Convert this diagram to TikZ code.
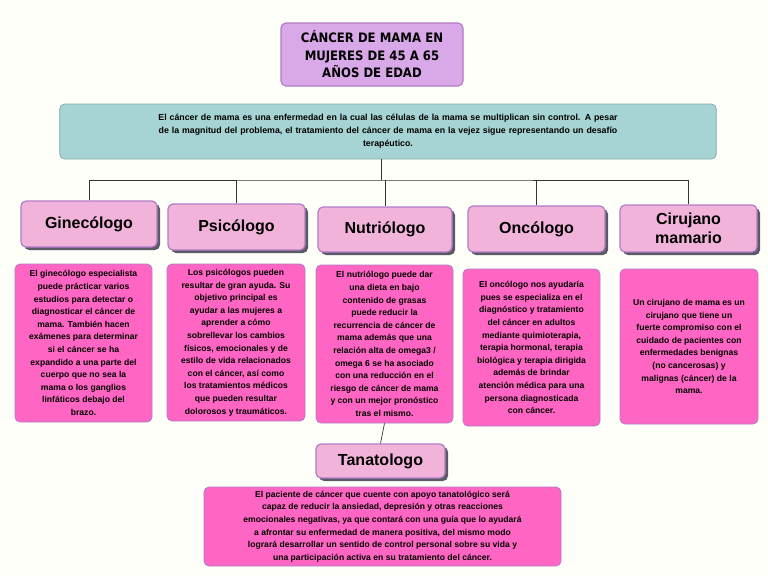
\documentclass[tikz,border=0pt]{standalone}
\usepackage{fontspec}
\setmainfont{Liberation Sans}
\newfontfamily\titlefont{DejaVu Sans Condensed}
\begin{document}
\begin{tikzpicture}[x=1pt,y=-1pt,
 hdr/.style={draw=hpurp,line width=1.2pt,fill=hpink,rounded corners=5pt,font=\bfseries\fontsize{16}{19}\selectfont,align=center,
   inner sep=0pt,drop shadow={shadow xshift=3pt,shadow yshift=-3pt,fill=shad,opacity=1}},
 txt/.style={draw=hpurp,line width=0.8pt,fill=tpink,rounded corners=5pt,font=\bfseries\fontsize{8.6}{12.6}\selectfont,align=center,inner sep=0pt},
 ln/.style={line width=0.7pt,black!80}]
\definecolor{hpink}{HTML}{F2B3DB}
\definecolor{hpurp}{HTML}{B07CC6}
\definecolor{tpink}{HTML}{FF66C4}
\definecolor{shad}{HTML}{5A5A66}
\definecolor{lav}{HTML}{D9A8E8}
\definecolor{teal}{HTML}{A6D3D4}
\useasboundingbox[fill=white!98!yellow] (0,0) rectangle (768,576);
\usetikzlibrary{shadows}
\node[draw=hpurp,line width=1.2pt,fill=lav,rounded corners=5pt,minimum width=182pt,minimum height=63pt,align=center,
 font=\titlefont\bfseries\fontsize{13}{17.5}\selectfont] (title) at (372,54.5) {CÁNCER DE MAMA EN\\MUJERES DE 45 A 65\\AÑOS DE EDAD};
\node[draw=teal!80!black,line width=0.8pt,fill=teal,rounded corners=5pt,minimum width=650pt,minimum height=55pt,align=center,text width=650pt,
 font=\bfseries\fontsize{8.8}{13}\selectfont] (desc) at (388,131.5) {El cáncer de mama es una enfermedad en la cual las células de la mama se multiplican sin control. A pesar\\de la magnitud del problema, el tratamiento del cáncer de mama en la vejez sigue representando un desafío\\terapéutico.};
\node[hdr,minimum width=136pt,minimum height=46pt] (h1) at (89,224) {Ginecólogo};
\node[hdr,minimum width=137pt,minimum height=46pt] (h2) at (236.5,227) {Psicólogo};
\node[hdr,minimum width=134pt,minimum height=45pt] (h3) at (385,229.5) {Nutriólogo};
\node[hdr,minimum width=137pt,minimum height=46pt] (h4) at (536.5,229) {Oncólogo};
\node[hdr,minimum width=137pt,minimum height=47pt] (h5) at (688.5,228.5) {Cirujano\\mamario};
\node[txt,minimum width=137pt,minimum height=158pt] (t1) at (83.5,343) {El ginecólogo especialista\\puede prácticar varios\\estudios para detectar o\\diagnosticar el cáncer de\\mama. También hacen\\exámenes para determinar\\si el cáncer se ha\\expandido a una parte del\\cuerpo que no sea la\\mama o los ganglios\\linfáticos debajo del\\brazo.};
\node[txt,minimum width=138pt,minimum height=157pt] (t2) at (236,342.5) {Los psicólogos  pueden\\resultar de gran ayuda. Su\\objetivo principal es\\ayudar a las mujeres a\\aprender a cómo\\sobrellevar los cambios\\físicos, emocionales y de\\estilo de vida relacionados\\con el cáncer, así como\\los tratamientos médicos\\que pueden resultar\\dolorosos y traumáticos.};
\node[txt,minimum width=137pt,minimum height=158pt] (t3) at (384.5,344) {El nutriólogo puede dar\\una dieta en bajo\\contenido de grasas\\puede reducir la\\recurrencia de cáncer de\\mama además que una\\relación alta de omega3 /\\omega 6 se ha asociado\\con una reducción en el\\riesgo de cáncer de mama\\y con un mejor pronóstico\\tras el mismo.};
\node[txt,minimum width=137pt,minimum height=157pt] (t4) at (531.5,347.5) {El oncólogo nos ayudaría\\pues se especializa en el\\diagnóstico y tratamiento\\del cáncer en adultos\\mediante quimioterapia,\\terapia hormonal, terapia\\biológica y terapia dirigida\\además de brindar\\atención médica para una\\persona diagnosticada\\con cáncer.};
\node[txt,minimum width=138pt,minimum height=155pt] (t5) at (689,346.5) {Un cirujano de mama es un\\cirujano que tiene un\\fuerte compromiso con el\\cuidado de pacientes con\\enfermedades benignas\\(no cancerosas) y\\malignas (cáncer) de la\\mama.};
\node[hdr,minimum width=129pt,minimum height=34pt] (h6) at (380.5,461) {Tanatologo};
\node[txt,minimum width=357pt,minimum height=79pt] (t6) at (382.5,526.5) {El paciente de cáncer que cuente con apoyo tanatológico será\\capaz de reducir la ansiedad, depresión y otras reacciones\\emocionales negativas, ya que contará con una guía que lo ayudará\\a afrontar su enfermedad de manera positiva, del mismo modo\\logrará desarrollar un sentido de control personal sobre su vida y\\una participación activa en su tratamiento del cáncer.};
\coordinate (bar) at (381,180);
\draw[ln] (desc.south -| bar) -- (bar);
\draw[ln] (h1.north) |- (bar) -| (h5.north);
\draw[ln] (bar -| h2.north) -- (h2.north);
\draw[ln] (bar -| h3.north) -- (h3.north);
\draw[ln] (bar -| h4.north) -- (h4.north);
\draw[ln] (t3.south) -- (h6.north);
\end{tikzpicture}
\end{document}
